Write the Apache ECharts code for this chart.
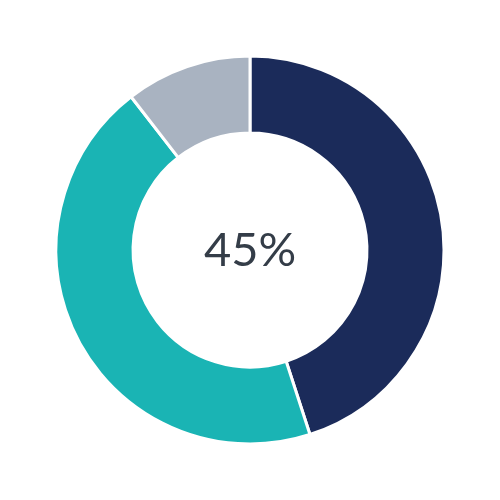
<!DOCTYPE html>
<html><head><meta charset="utf-8">
<script src="https://cdn.jsdelivr.net/npm/echarts@6/dist/echarts.min.js"></script>
<style>html,body{margin:0;padding:0;background:#fff}#c{width:500px;height:500px}</style>
</head><body><div id="c"></div>
<script>
const categories = ['A', 'B', 'C'];
const values = [45, 44.5, 10.5];
const colors = ['#1b2b5a', '#1ab4b4', '#a9b3c1'];
const centerLabel = '45%';

const chart = echarts.init(document.getElementById('c'), null, {renderer: 'canvas'});
chart.setOption({
  animation: false,
  title: {
    text: centerLabel, left: 'center', top: 222,
    textStyle: {fontFamily: 'Lato', fontWeight: 'normal', fontSize: 47, color: '#343d48'}
  },
  series: [{
    type: 'pie',
    center: [250, 250],
    radius: [117, 194],
    startAngle: 90,
    clockwise: true,
    label: {show: false},
    labelLine: {show: false},
    itemStyle: {borderColor: '#fff', borderWidth: 3},
    data: categories.map((c, i) => ({name: c, value: values[i], itemStyle: {color: colors[i]}}))
  }]
});
</script></body></html>
